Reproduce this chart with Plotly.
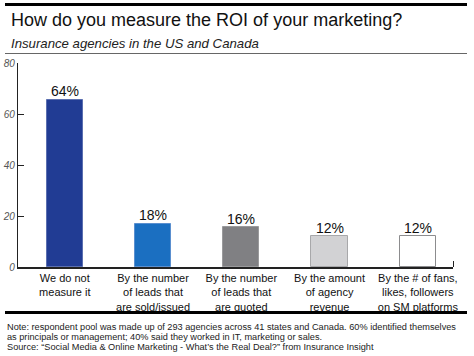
import plotly.graph_objects as go

categories = [
    "We do not<br>measure it",
    "By the number<br>of leads that<br>are sold/issued",
    "By the number<br>of leads that<br>are quoted",
    "By the amount<br>of agency<br>revenue",
    "By the # of fans,<br>likes, followers<br>on SM platforms",
]
values = [65.5, 17, 15.5, 12, 12]
value_labels = ["64%", "18%", "16%", "12%", "12%"]
bar_colors = ["#213c94", "#1b6fc1", "#808083", "#d2d2d4", "#ffffff"]
edge_colors = ["#5b6fb0", "#5a8fcf", "#9a9a9c", "#a8a8aa", "#8c8c8e"]
y_ticks = [0, 20, 40, 60, 80]

title = "How do you measure the ROI of your marketing?"
subtitle = "Insurance agencies in the US and Canada"
note_lines = [
    "Note: respondent pool was made up of 293 agencies across 41 states and Canada. 60% identified themselves",
    "as principals or management; 40% said they worked in IT, marketing or sales.",
    "Source: \u201cSocial Media & Online Marketing - What\u2019s the Real Deal?\u201d from Insurance Insight",
]

FONT = "Liberation Sans, Arial, Helvetica, sans-serif"
xs = list(range(len(categories)))

fig = go.Figure()
fig.add_trace(go.Bar(
    x=xs, y=values, width=0.41,
    marker=dict(color=bar_colors, line=dict(color=edge_colors, width=1)),
    showlegend=False, hoverinfo="skip",
))


def rule(xc, yc, w, h, color, xanchor="center", yanchor="middle"):
    return dict(text=" ", xref="paper", yref="paper", x=xc, y=yc, xanchor=xanchor, yanchor=yanchor,
                width=w, height=h, bgcolor=color, borderpad=0, borderwidth=0,
                showarrow=False, font=dict(size=1, color=color))


annotations = [
    rule(0.498, 0.986, 462, 3, "#000000"),
    rule(0.498, 0.851, 462, 1, "#666666"),
    rule(0.498, 0.121, 462, 3, "#000000"),
    rule(0.956, 0.25, 1, 6, "#222222", yanchor="bottom"),
    dict(text=title, xref="paper", yref="paper", x=0.019, y=0.944, xanchor="left", yanchor="middle",
         showarrow=False, font=dict(family=FONT, size=18, color="#111")),
    dict(text=subtitle, xref="paper", yref="paper", x=0.019, y=0.879, xanchor="left", yanchor="middle",
         showarrow=False, font=dict(family=FONT, size=13.2, color="#222", style="italic")),
]
for xv, yv, lab in zip(xs, values, value_labels):
    annotations.append(dict(text=lab, x=xv, y=yv, xref="x", yref="y", yanchor="middle",
                            yshift=8.5, showarrow=False,
                            font=dict(family=FONT, size=14, color="#111")))
note_y = [0.0815, 0.0534, 0.0253]
for line, yy in zip(note_lines, note_y):
    annotations.append(dict(text=line, xref="paper", yref="paper", x=0.011, y=yy,
                            xanchor="left", yanchor="middle", showarrow=False,
                            font=dict(family=FONT, size=9.2, color="#222")))

fig.update_layout(
    width=474, height=356,
    margin=dict(l=0, r=0, t=0, b=0),
    paper_bgcolor="white", plot_bgcolor="white",
    font=dict(family=FONT, color="#111"),
    bargap=0,
    xaxis=dict(
        domain=[0.038, 0.956],
        range=[-0.53, 4.4], tickmode="array", tickvals=xs, ticktext=categories,
        tickfont=dict(family=FONT, size=11, color="#111"),
        showline=True, linecolor="#222", linewidth=1.5, ticks="",
        showgrid=False, zeroline=False, fixedrange=True, automargin=False,
    ),
    yaxis=dict(
        domain=[0.25, 0.823],
        range=[0, 80], tickmode="array", tickvals=y_ticks,
        ticktext=[str(v) for v in y_ticks],
        tickfont=dict(family="Liberation Sans, Arial, sans-serif", size=10, color="#555", style="italic"),
        showline=True, linecolor="#222", linewidth=1.2,
        ticks="inside", ticklen=6, tickcolor="#222", tickwidth=1,
        showgrid=False, zeroline=False, fixedrange=True, automargin=False,
    ),
    annotations=annotations,
)

fig.write_html("out.html", config={"displayModeBar": False},
               post_script="document.body.style.margin='0';")
